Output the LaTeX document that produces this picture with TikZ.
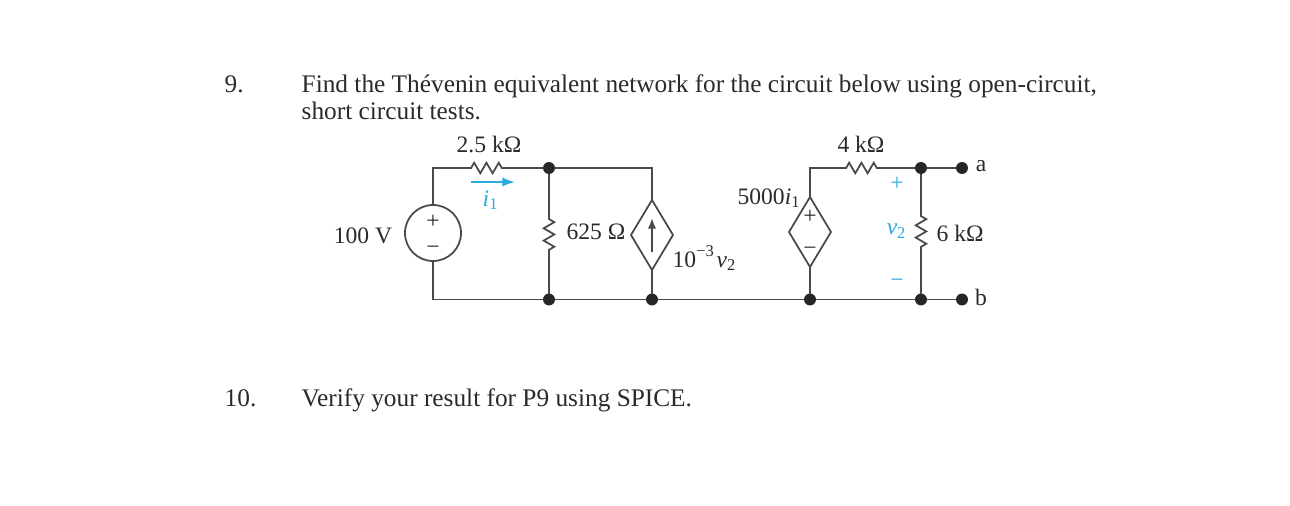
\documentclass[tikz,border=0pt]{standalone}
\usepackage{fontspec}
\setmainfont{Liberation Serif}
\usetikzlibrary{shapes.geometric,decorations.pathmorphing,arrows.meta}
\definecolor{wirec}{HTML}{4A4A4A}
\definecolor{bluec}{HTML}{29ABE2}
\definecolor{textc}{HTML}{2A2A2A}
\newcommand{\lbl}[1]{\fontsize{#1}{#1}\selectfont}
\tikzset{
  wire/.style={draw=wirec,line width=0.5pt},
  res/.style={wire,decorate,decoration={zigzag,segment length=3.5pt,amplitude=1.5pt,pre length=0.3pt,post length=0.3pt}},
  dot/.style={circle,fill=black!85,inner sep=0pt,outer sep=0pt,minimum size=3.4pt},
  dep/.style={diamond,wire,inner sep=0pt,outer sep=0pt,minimum width=0.42cm,minimum height=0.70cm},
  para/.style={anchor=base west,text=textc,inner sep=0pt,font=\lbl{7.2}},
  val/.style={text=textc,inner sep=0pt,font=\lbl{6.7}},
  cur/.style={text=bluec,inner sep=0pt,font=\lbl{6.7}}
}
\begin{document}
\begin{tikzpicture}[x=0.01cm,y=-0.01cm]
   \useasboundingbox (0,0) rectangle (1290,506);
   % problem text
   \node[para] (num9) at (224,92) {9.};
   \node[para] (line1) at (301,92) {Find the Thévenin equivalent network for the circuit below using open-circuit,};
   \node[para] (line2) at (301,120) {short circuit tests.};
   \node[para] (num10) at (224,406) {10.};
   \node[para] (line3) at (301,406) {Verify your result for P9 using SPICE.};
   % corners and junctions
   \coordinate (tl) at (433,168);
   \coordinate (bl) at (433,299.5);
   \coordinate (r1a) at (470,168);
   \coordinate (r1b) at (507,168);
   \coordinate (r2a) at (549,218);
   \coordinate (r2b) at (549,252);
   \coordinate (tm) at (652,168);
   \coordinate (tr) at (810,168);
   \coordinate (r3a) at (845,168);
   \coordinate (r3b) at (882,168);
   \coordinate (r4a) at (921,215);
   \coordinate (r4b) at (921,250);
   \node[dot] (n1) at (549,168) {};
   \node[dot] (n2) at (549,299.5) {};
   \node[dot] (n3) at (652,299.5) {};
   \node[dot] (n4) at (810,299.5) {};
   \node[dot] (n5) at (921,168) {};
   \node[dot] (n6) at (921,299.5) {};
   \node[dot] (ta) at (962,168) {};
   \node[dot] (tb) at (962,299.5) {};
   % sources
   \node[circle,wire,inner sep=0pt,outer sep=0pt,minimum size=0.56cm] (vs) at (433,233) {};
   \node[dep] (cs) at (652,235) {};
   \node[dep] (vd) at (810,232) {};
   % wires
   \draw[wire] (vs.north) -- (tl) -- (r1a);
   \draw[res] (r1a) -- (r1b);
   \draw[wire] (r1b) -- (n1) -- (tm) -- (cs.north);
   \draw[wire] (n1) -- (r2a);
   \draw[res] (r2a) -- (r2b);
   \draw[wire] (r2b) -- (n2);
   \draw[wire] (vs.south) -- (bl) -- (n2) -- (n3) -- (n4) -- (n6) -- (tb);
   \draw[wire] (cs.south) -- (n3);
   \draw[wire] (vd.south) -- (n4);
   \draw[wire] (vd.north) -- (tr) -- (r3a);
   \draw[res] (r3a) -- (r3b);
   \draw[wire] (r3b) -- (n5) -- (ta);
   \draw[wire] (n5) -- (r4a);
   \draw[res] (r4a) -- (r4b);
   \draw[wire] (r4b) -- (n6);
   % controlled current arrow
   \coordinate (csb) at (652,252);
   \coordinate (cst) at (652,218);
   \draw[wire,line width=0.6pt,-{Latex[length=3pt,width=2.4pt]}] (csb) -- (cst);
   % measured current
   \coordinate (ia) at (471,182);
   \coordinate (ib) at (515,182);
   \draw[draw=bluec,line width=0.5pt,-{Latex[length=3.6pt,width=2.6pt]}] (ia) -- (ib);
   % labels
   \node[val] (l100) at (363,236) {100 V};
   \node[val] (lr1) at (489,144) {2.5 kΩ};
   \node[val] (lr2) at (596,232) {625 Ω};
   \node[val,anchor=west] (lcs) at (672,258) {10\textsuperscript{−3}\kern0.3pt\textit{v}\textsubscript{2}};
   \node[val,anchor=east] (lvd) at (802,198) {5000\textit{i}\textsubscript{1}};
   \node[val] (lr3) at (861,144) {4 kΩ};
   \node[val,anchor=west] (lr4) at (936,233) {6 kΩ};
   \node[val] (la) at (981,166) {a};
   \node[val] (lb) at (981,297) {b};
   \node[val] (vsp) at (433,222) {+};
   \node[val] (vsm) at (433,250) {−};
   \node[val] (vdp) at (810,217) {+};
   \node[val] (vdm) at (810,251) {−};
   \node[cur] (li) at (491,200) {\textit{i}\textsubscript{1}};
   \node[cur] (vp) at (897,184) {+};
   \node[cur] (lv) at (897,231) {\textit{v}\textsubscript{2}};
   \node[cur] (vm) at (897,283) {−};
\end{tikzpicture}
\end{document}
